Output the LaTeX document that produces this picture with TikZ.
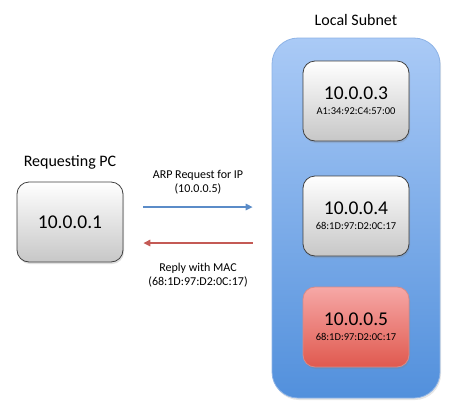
\documentclass[tikz,border=0pt]{standalone}
\usepackage{fontspec}
\setmainfont{Carlito}
\usetikzlibrary{positioning,arrows.meta,calc,shadows}

\definecolor{netTop}{HTML}{AACAF6}
\definecolor{netBot}{HTML}{5290DC}
\definecolor{netEdge}{HTML}{8DB3E6}
\definecolor{reqBlue}{HTML}{5B8CC8}
\definecolor{repRed}{HTML}{C45A55}
\definecolor{hotTop}{HTML}{F6A8A6}
\definecolor{hotBot}{HTML}{E0594F}

\newcommand{\ipaddr}[1]{{\fontsize{19.5}{22}\selectfont #1}}
\newcommand{\macaddr}[1]{{\fontsize{10.5}{12}\selectfont #1}}

\begin{document}
\begin{tikzpicture}[
  x=1pt, y=-1pt,
  host/.style = {draw=black!75, line width=0.8pt, rounded corners=12pt,
                 top color=white, bottom color=black!22,
                 minimum width=106pt, minimum height=80pt, align=center,
                 inner sep=2pt,
                 drop shadow={opacity=0.25, shadow xshift=1pt, shadow yshift=-2pt}},
  hot/.style  = {host, draw=repRed!70, top color=hotTop, bottom color=hotBot},
  net/.style  = {draw=netEdge, line width=0.8pt, rounded corners=26pt,
                 top color=netTop, bottom color=netBot,
                 minimum width=168pt, minimum height=360pt,
                 drop shadow={opacity=0.2, shadow xshift=1pt, shadow yshift=-2pt}},
  ar/.style   = {-{Triangle[length=7pt,width=6.5pt]}, line width=1.4pt},
  ttl/.style  = {font=\fontsize{16}{19}\selectfont},
  lbl/.style  = {font=\fontsize{12}{14}\selectfont, align=center},
]
  \useasboundingbox (0,0) rectangle (450,413);

  % ---- local subnet -----------------------------------------
  \node[net] (net) at (356, 218) {};
  \node[ttl] (nettl) at (356, 20) {Local Subnet};

  \node[host] (h3) at (356, 101) {\ipaddr{10.0.0.3}\\[3pt]\macaddr{A1:34:92:C4:57:00}};
  \node[host] (h4) at (356, 216) {\ipaddr{10.0.0.4}\\[3pt]\macaddr{68:1D:97:D2:0C:17}};
  \node[hot]  (h5) at (356, 327) {\ipaddr{10.0.0.5}\\[3pt]\macaddr{68:1D:97:D2:0C:17}};

  % ---- requesting pc ----------------------------------------
  \node[host] (pc) at (70, 222) {\ipaddr{10.0.0.1}};
  \node[ttl] (pctl) at (70, 162) {Requesting PC};

  % ---- arp exchange -----------------------------------------
  \draw[ar, reqBlue, shorten <=20pt, shorten >=19pt]
    ($(pc.east)+(0,-15)$) -- ($(pc.east -| net.west)+(0,-15)$);
  \draw[ar, repRed, shorten <=19pt, shorten >=20pt]
    ($(pc.east -| net.west)+(0,21)$) -- ($(pc.east)+(0,21)$);

  \node[lbl] (req) at (198, 182) {ARP Request for IP\\(10.0.0.5)};
  \node[lbl] (rep) at (198, 275) {Reply with MAC\\(68:1D:97:D2:0C:17)};

\end{tikzpicture}
\end{document}
